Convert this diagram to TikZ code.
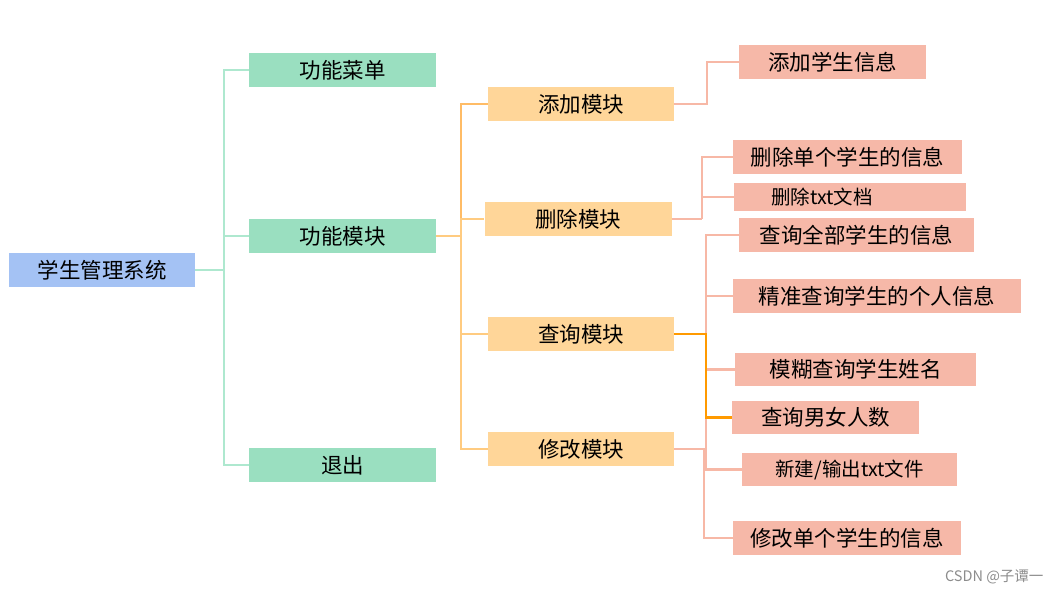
\documentclass[tikz,border=0pt]{standalone}
\usepackage{fontspec}
\newfontfamily\cjk{Noto Sans CJK SC}
\usepackage{tikz}
\usetikzlibrary{positioning}
\definecolor{rootblue}{HTML}{A4C2F4}
\definecolor{lvlgreen}{HTML}{9ADFC0}
\definecolor{lvlorange}{HTML}{FFD699}
\definecolor{lvlsalmon}{HTML}{F6B8A8}
\definecolor{lngreen}{HTML}{AEE8CF}
\definecolor{lnorange}{HTML}{FFCB80}
\definecolor{lnsalmon}{HTML}{F7B8A6}
\definecolor{lnhigh}{HTML}{FF9A00}

\begin{document}
\begin{tikzpicture}[x=1pt, y=-1pt,
  box/.style={inner sep=0pt, minimum height=34pt, text=black,
    font=\cjk\fontsize{21.5}{25}\selectfont},
  rootbox/.style={box, fill=rootblue, minimum width=186pt},
  greenbox/.style={box, fill=lvlgreen, minimum width=187pt},
  orangebox/.style={box, fill=lvlorange, minimum width=186pt},
  leafbox/.style={box, fill=lvlsalmon},
  smallleaf/.style={leafbox, font=\cjk\fontsize{19.5}{23}\selectfont},
  gline/.style={draw=lngreen, line width=2.5pt},
  oline/.style={draw=lnorange, line width=1.8pt},
  sline/.style={draw=lnsalmon, line width=2.2pt},
  hline/.style={draw=lnhigh, line width=2.2pt}]
  \useasboundingbox (0,0) rectangle (1062,593);
  % root and first level
  \node[rootbox] (root) at (102,270) {学生管理系统};
  \node[greenbox] (menu) at (342.5,70) {功能菜单};
  \node[greenbox] (func) at (342.5,236) {功能模块};
  \node[greenbox] (quit) at (342.5,465) {退出};
  % modules
  \node[orangebox] (add) at (581,104) {添加模块};
  \node[orangebox, minimum width=187pt] (del) at (578,219) {删除模块};
  \node[orangebox] (qry) at (581,334) {查询模块};
  \node[orangebox] (edt) at (581,449) {修改模块};
  % leaves
  \node[leafbox, minimum width=187pt] (addstu) at (832.5,62) {添加学生信息};
  \node[leafbox, minimum width=229pt] (delone) at (847.5,157) {删除单个学生的信息};
  \node[smallleaf, minimum height=28pt, inner xsep=37pt, text width=158pt, align=left]
    (deltxt) at (850,197) {删除txt文档};
  \node[leafbox, minimum width=235pt] (qall) at (856.5,235) {查询全部学生的信息};
  \node[leafbox, minimum width=288pt] (qexact) at (877,296) {精准查询学生的个人信息};
  \node[leafbox, minimum width=241pt, minimum height=33pt] (qfuzzy) at (855.5,369.5) {模糊查询学生姓名};
  \node[leafbox, minimum width=187pt, minimum height=33pt] (qsex) at (825.5,417.5) {查询男女人数};
  \node[smallleaf, minimum width=215pt, minimum height=33pt] (qfile) at (849.5,469.5) {新建/输出txt文件};
  \node[leafbox, minimum width=228pt] (edtone) at (847,538) {修改单个学生的信息};
  % root -> first level
  \coordinate (j0) at (224,270);
  \draw[gline] (root.east) -- (j0);
  \foreach \n in {menu,func,quit}
    \draw[gline] (j0) |- (\n.west);
  % functions -> modules
  \coordinate (j1) at (461,236);
  \draw[oline] (func.east) -- (j1);
  \draw[oline, draw=lnorange!80!orange] (j1) |- (add.west);
  \foreach \n in {del,qry,edt}
    \draw[oline] (j1) |- (\n.west);
  % modules -> leaves
  \coordinate (ja) at (707,104);
  \draw[sline] (add.east) -- (ja) |- (addstu.west);
  \coordinate (jd) at (702,219);
  \draw[sline] (del.east) -- (jd);
  \foreach \n in {delone,deltxt}
    \draw[sline] (jd) |- (\n.west);
  \coordinate (jq) at (706,334);
  \draw[sline] (qry.east) -- (jq);
  \foreach \n in {qall,qexact,qfuzzy,qfile}
    \draw[sline] (jq) |- (\n.west);
  \draw[hline] (qry.east) -- (jq) |- (qsex.west);
  \coordinate (je) at (704,449);
  \draw[sline] (edt.east) -- (je) |- (edtone.west);
  % watermark
  \node[text=black!45, font=\cjk\fontsize{14.5}{16}\selectfont, anchor=east] (mark) at (1047,577) {CSDN @子谭一};
\end{tikzpicture}
\end{document}
